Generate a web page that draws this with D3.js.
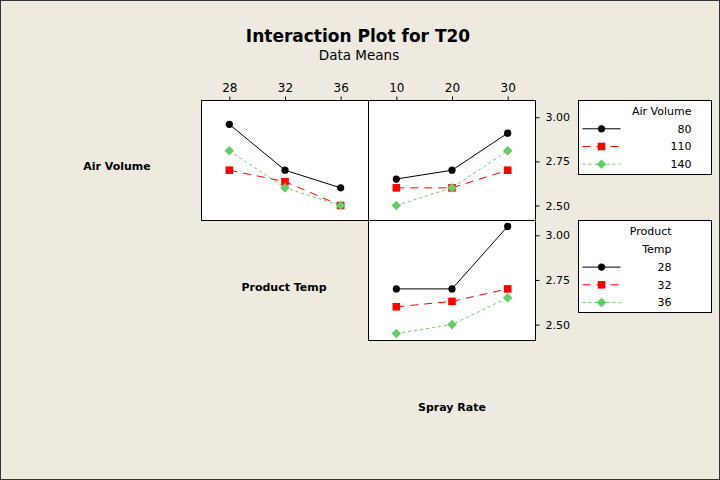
<!DOCTYPE html>
<html>
<head>
<meta charset="utf-8">
<script src="https://cdn.jsdelivr.net/npm/d3@7"></script>
<style>
body { margin: 0; background: #EEEAE0; }
text { font-family: "DejaVu Sans", Verdana, sans-serif; fill: #000; }
</style>
</head>
<body>
<div class="graph"></div>
<script>

//data (T20 means)

var airVolume = ["80", "110", "140"];
var productTemp = [28, 32, 36];
var productTempNames = ["28", "32", "36"];
var sprayRate = [10, 20, 30];

// Air Volume x Product Temp
var avTemp80 = [2.96, 2.70, 2.60];
var avTemp110 = [2.70, 2.635, 2.50];
var avTemp140 = [2.81, 2.60, 2.50];

// Air Volume x Spray Rate
var avSpray80 = [2.65, 2.70, 2.91];
var avSpray110 = [2.60, 2.60, 2.70];
var avSpray140 = [2.50, 2.60, 2.81];

// Product Temp x Spray Rate
var ptSpray28 = [2.70, 2.70, 3.05];
var ptSpray32 = [2.60, 2.63, 2.70];
var ptSpray36 = [2.45, 2.50, 2.65];

var yTicks = [2.50, 2.75, 3.00];

//prepare SVG

var svgWidth = 720;
var svgHeight = 480;

var panelW = 167;
var panelH = 120;
var col0 = 201.5, col1 = 368.5;
var row0 = 100.5, row1 = 220.5;

var styles = [
	{color: "#000000", dash: null, symbol: "circle"},
	{color: "#FF0000", dash: "8,6", symbol: "square"},
	{color: "#66CC66", dash: "3,3", symbol: "diamond"}
];

var svg = d3.select("div.graph")
		.append("svg")
		.attr("width", svgWidth)
		.attr("height", svgHeight);

svg.append("rect")
	.attr("x", 0.5).attr("y", 0.5)
	.attr("width", svgWidth - 1).attr("height", svgHeight - 1)
	.attr("fill", "#EEEAE0")
	.attr("stroke", "#333333");

var xTemp = d3.scaleLinear().domain([26, 38]).range([0, panelW]);
var xSpray = d3.scaleLinear().domain([5, 35]).range([0, panelW]);
var yTop = d3.scaleLinear().domain([2.415, 3.095]).range([panelH, 0]);
var yBottom = d3.scaleLinear().domain([2.411, 3.083]).range([panelH, 0]);

function marker(sel, type, color) {
	if (type == "circle") {
		sel.append("circle").attr("r", 3.6).attr("fill", color);
	} else if (type == "square") {
		sel.append("rect").attr("x", -3.8).attr("y", -3.8)
			.attr("width", 7.6).attr("height", 7.6).attr("fill", color);
	} else {
		sel.append("path").attr("d", "M0,-4.8L4.8,0L0,4.8L-4.8,0Z").attr("fill", color);
	}
}

function drawPanel(px, py, x, y, xs, series) {

	var g = svg.append("g").attr("transform", "translate(" + px + "," + py + ")");

	g.append("rect")
		.attr("width", panelW).attr("height", panelH)
		.attr("fill", "#FFFFFF").attr("stroke", "#000000");

	var line = d3.line()
		.x(function(d, n) {return x(xs[n])})
		.y(function(d) {return y(d)});

	series.forEach(function(vals, i) {
		var s = styles[i];
		g.append("path")
			.attr("d", line(vals))
			.attr("fill", "none")
			.attr("stroke", s.color)
			.attr("stroke-width", 1)
			.attr("stroke-dasharray", s.dash);
	});

	series.forEach(function(vals, i) {
		var s = styles[i];
		vals.forEach(function(v, n) {
			var m = g.append("g").attr("transform", "translate(" + x(xs[n]) + "," + y(v) + ")");
			marker(m, s.symbol, s.color);
		});
	});

	return g;
}

function topAxis(px, x, vals) {
	var a = d3.axisTop(x).tickValues(vals).tickSize(4).tickPadding(5).tickSizeOuter(0);
	var g = svg.append("g")
		.attr("transform", "translate(" + px + "," + row0 + ")")
		.call(a);
	g.select(".domain").remove();
	g.attr("font-size", 12).attr("font-family", "DejaVu Sans, Verdana, sans-serif");
}

function rightAxis(py, y) {
	var a = d3.axisRight(y).tickValues(yTicks).tickFormat(d3.format(".2f"))
		.tickSize(4).tickPadding(6).tickSizeOuter(0);
	var g = svg.append("g")
		.attr("transform", "translate(" + (col1 + panelW) + "," + py + ")")
		.call(a);
	g.select(".domain").remove();
	g.attr("font-size", 11).attr("font-family", "DejaVu Sans, Verdana, sans-serif");
}

function legend(lx, ly, h, titleLines, names, textX) {
	var g = svg.append("g").attr("transform", "translate(" + lx + "," + ly + ")");
	g.append("rect").attr("width", 133).attr("height", h)
		.attr("fill", "#FFFFFF").attr("stroke", "#000000");
	titleLines.forEach(function(t, i) {
		g.append("text").attr("x", textX).attr("y", 10.5 + i * 18.3)
			.attr("dy", "0.35em").attr("text-anchor", "end")
			.attr("font-size", 11).text(t);
	});
	var top = 10.5 + titleLines.length * 18.3 - 0.5;
	names.forEach(function(nm, i) {
		var s = styles[i];
		var yy = top + i * 17.7;
		g.append("line").attr("x1", 4).attr("x2", 42).attr("y1", yy).attr("y2", yy)
			.attr("stroke", s.color).attr("stroke-dasharray", s.dash);
		var m = g.append("g").attr("transform", "translate(23," + yy + ")");
		marker(m, s.symbol, s.color);
		g.append("text").attr("x", textX).attr("y", yy).attr("dy", "0.35em")
			.attr("text-anchor", "end").attr("font-size", 11).text(nm);
	});
}

//panels

drawPanel(col0, row0, xTemp, yTop, productTemp, [avTemp80, avTemp110, avTemp140]);
drawPanel(col1, row0, xSpray, yTop, sprayRate, [avSpray80, avSpray110, avSpray140]);
drawPanel(col1, row1, xSpray, yBottom, sprayRate, [ptSpray28, ptSpray32, ptSpray36]);

topAxis(col0, xTemp, productTemp);
topAxis(col1, xSpray, sprayRate);
rightAxis(row0, yTop);
rightAxis(row1, yBottom);

//titles and labels

svg.append("text").attr("x", 358).attr("y", 41.5).attr("text-anchor", "middle")
	.attr("font-size", 17).attr("font-weight", "bold").text("Interaction Plot for T20");
svg.append("text").attr("x", 359).attr("y", 60).attr("text-anchor", "middle")
	.attr("font-size", 13.5).text("Data Means");

svg.append("text").attr("x", 117).attr("y", 166).attr("dy", "0.35em").attr("text-anchor", "middle")
	.attr("font-size", 11).attr("font-weight", "bold").text("Air Volume");
svg.append("text").attr("x", 284).attr("y", 287).attr("dy", "0.35em").attr("text-anchor", "middle")
	.attr("font-size", 11).attr("font-weight", "bold").text("Product Temp");
svg.append("text").attr("x", 452).attr("y", 407).attr("dy", "0.35em").attr("text-anchor", "middle")
	.attr("font-size", 11).attr("font-weight", "bold").text("Spray Rate");

//legends

legend(578.5, 100.5, 74, ["Air Volume"], airVolume, 113);
legend(578.5, 220.5, 92, ["Product", "Temp"], productTempNames, 93);

</script>
</body>
</html>
